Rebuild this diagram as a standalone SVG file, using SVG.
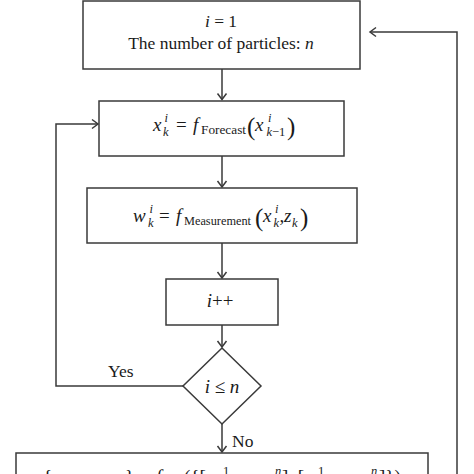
<svg xmlns="http://www.w3.org/2000/svg" width="474" height="474" viewBox="0 0 474 474">
<style>
.box{fill:#fff;stroke:#3a3a3a;stroke-width:1.5}
.ln{fill:none;stroke:#3a3a3a;stroke-width:1.5}
text{font-family:"Liberation Serif",serif;fill:#1a1a1a;font-size:17.5px}
.m{font-size:19px}
.it{font-style:italic}
.sm{font-size:12.5px}
.sub{font-size:13.5px}
.sub2{font-size:12.5px}
.par{font-size:25px}
</style>
<defs>
<marker id="ah" markerUnits="userSpaceOnUse" markerWidth="12" markerHeight="12" viewBox="-8 -6 10 12" refX="0" refY="0" orient="auto">
<path d="M-6,-4.5 L0,0 L-6,4.5" fill="none" stroke="#3a3a3a" stroke-width="1.5"/>
</marker>
</defs>
<rect width="474" height="474" fill="#fff"/>
<g id="connectors">
<path class="ln" d="M222,69 V99.5" marker-end="url(#ah)"/>
<path class="ln" d="M222,156 V187" marker-end="url(#ah)"/>
<path class="ln" d="M222,243 V278" marker-end="url(#ah)"/>
<path class="ln" d="M222,325 V347" marker-end="url(#ah)"/>
<path class="ln" d="M183,386 H56 V124 H98" marker-end="url(#ah)"/>
<path class="ln" d="M222,424 V452" marker-end="url(#ah)"/>
<path class="ln" d="M457,476 V32 H370" marker-end="url(#ah)"/>
<text x="108" y="377">Yes</text>
<text x="232" y="447">No</text>
</g>
<g id="n-init">
<rect class="box" x="83" y="1" width="277" height="68"/>
<text x="221" y="27" text-anchor="middle"><tspan class="it">i</tspan> = 1</text>
<text x="221" y="49" text-anchor="middle">The number of particles: <tspan class="it">n</tspan></text>
</g>
<g id="n-forecast">
<rect class="box" x="99" y="101" width="245" height="55"/>
<text class="m" y="131"><tspan class="it" x="153">x</tspan><tspan class="sm it" x="164.5" y="122">i</tspan><tspan class="sm it" x="163" y="135.5">k</tspan><tspan x="176" y="131">=</tspan><tspan class="it" x="193">f</tspan><tspan class="sub" x="201" y="134" textLength="45" lengthAdjust="spacingAndGlyphs">Forecast</tspan><tspan class="par" x="247" y="135">(</tspan><tspan class="it" x="255" y="131">x</tspan><tspan class="sm it" x="268" y="122">i</tspan><tspan class="sm it" x="266.5" y="135.5">k</tspan><tspan class="sm" y="135.5">−1</tspan><tspan class="par" x="287" y="135">)</tspan></text>
</g>
<g id="n-measure">
<rect class="box" x="87" y="188" width="270" height="55"/>
<text class="m" y="222"><tspan class="it" x="133">w</tspan><tspan class="sm it" x="149.5" y="213">i</tspan><tspan class="sm it" x="148" y="226.5">k</tspan><tspan x="159" y="222">=</tspan><tspan class="it" x="176">f</tspan><tspan class="sub2" x="184" y="225" textLength="67" lengthAdjust="spacingAndGlyphs">Measurement</tspan><tspan class="par" x="255" y="226">(</tspan><tspan class="it" x="263" y="222">x</tspan><tspan class="sm it" x="275" y="213">i</tspan><tspan class="sm it" x="273.5" y="226.5">k</tspan><tspan x="279.5" y="222">,</tspan><tspan class="it" x="284">z</tspan><tspan class="sm it" x="292" y="226.5">k</tspan><tspan class="par" x="300" y="226">)</tspan></text>
</g>
<g id="n-inc">
<rect class="box" x="166" y="279" width="112" height="46"/>
<text class="m" x="220" y="307" text-anchor="middle"><tspan class="it">i</tspan>++</text>
</g>
<g id="n-cond">
<path class="box" d="M222,348 L261,386 L222,424 L183,386 Z"/>
<text class="m" x="222" y="393" text-anchor="middle"><tspan class="it">i</tspan> ≤ <tspan class="it">n</tspan></text>
</g>
<g id="n-resample">
<rect class="box" x="16" y="453" width="412" height="40"/>
<text class="m" y="483"><tspan x="43">{</tspan><tspan class="it" x="58">x</tspan><tspan class="sm it" x="68" y="487">k</tspan><tspan x="74" y="483">,</tspan><tspan class="it" x="90">w</tspan><tspan class="sm it" x="104" y="487">k</tspan><tspan x="125" y="483">} =</tspan><tspan class="it" x="156">f</tspan><tspan class="sm" x="164" y="487">R</tspan><tspan x="184" y="483">({[</tspan><tspan class="it" x="212">x</tspan><tspan class="sm" x="223" y="475">1</tspan><tspan x="229" y="483">, …,</tspan><tspan class="it" x="264">x</tspan><tspan class="sm it" x="275" y="475">n</tspan><tspan x="282" y="483">], [</tspan><tspan class="it" x="305">w</tspan><tspan class="sm" x="318" y="475">1</tspan><tspan x="324" y="483">, …,</tspan><tspan class="it" x="358">w</tspan><tspan class="sm it" x="371" y="475">n</tspan><tspan x="379" y="483">]})</tspan></text>
</g>
</svg>
